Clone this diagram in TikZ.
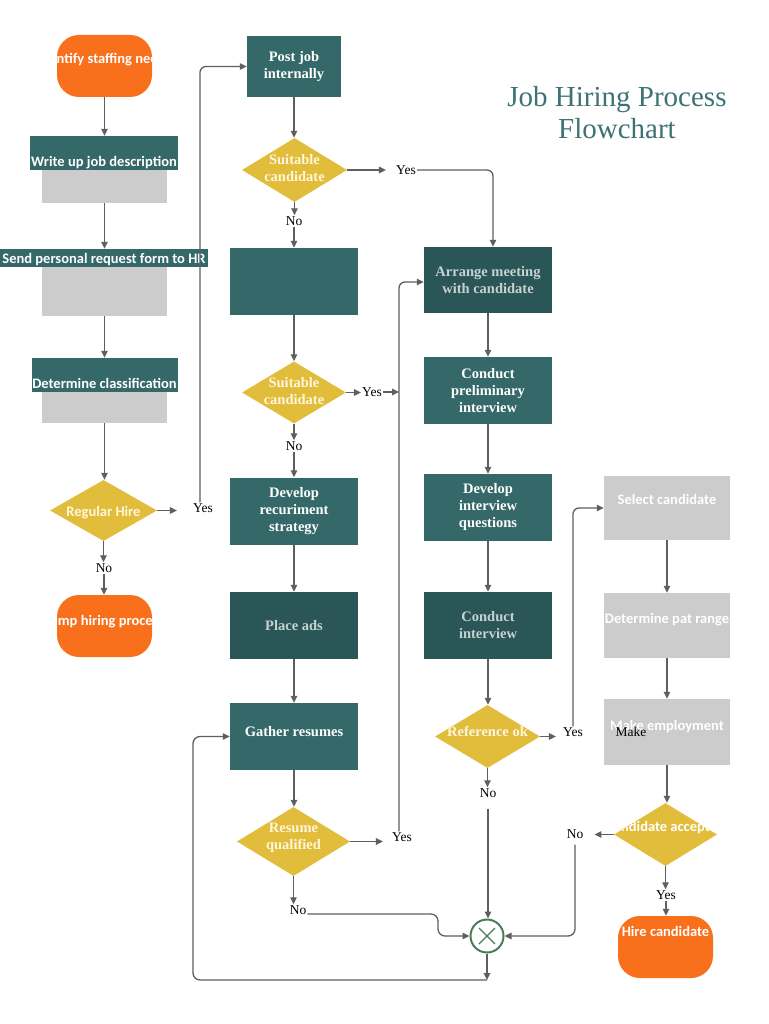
\documentclass[tikz,border=0pt]{standalone}
\usepackage{fontspec}
\setmainfont{Liberation Serif}
\newfontfamily\carl{Carlito}
\usetikzlibrary{shapes.geometric,arrows.meta,calc}
\definecolor{tealA}{HTML}{356869}
\definecolor{tealD}{HTML}{2A5657}
\definecolor{dtext}{HTML}{C8D2D2}
\definecolor{grayC}{HTML}{CCCCCC}
\definecolor{yellowC}{HTML}{E1BD3B}
\definecolor{orangeC}{HTML}{F8701C}
\definecolor{creamC}{HTML}{FFF6DC}
\definecolor{lineC}{HTML}{5F5F5F}
\definecolor{greenC}{HTML}{4C7B5B}
\definecolor{titleC}{HTML}{3E7275}
\newcommand\dlines[1]{\makebox[0pt]{\begin{tabular}{@{}c@{}}#1\end{tabular}}}
\begin{document}
\begin{tikzpicture}[x=1pt,y=-1pt,
  sz/.style 2 args={minimum width=#1, minimum height=#2},
  arr/.style={draw=lineC, line width=1.3pt, -{Triangle[length=7pt,width=6.5pt]}},
  tbox/.style={rectangle, fill=tealA, inner sep=0pt, text=white, font=\fontsize{14.5}{17}\selectfont\bfseries, align=center},
  dbox/.style={tbox, fill=tealD, text=dtext},
  gbox/.style={rectangle, fill=grayC, inner sep=0pt, text=white, font=\carl\fontsize{14.5}{17}\selectfont\bfseries},
  band/.style={rectangle, fill=tealA, inner sep=0pt, text=white, font=\carl\fontsize{14.5}{17}\selectfont\bfseries},
  term/.style={rectangle, rounded corners=22pt, fill=orangeC, inner sep=0pt},
  ttxt/.style={inner sep=0pt, text=white, font=\carl\fontsize{14.5}{17}\selectfont\bfseries},
  dia/.style={diamond, fill=yellowC, inner sep=0pt, text=creamC, font=\fontsize{14.5}{17}\selectfont\bfseries, text height=7pt, text depth=0pt},
  lab/.style={inner sep=1pt, text=black, font=\fontsize{13.5}{15}\selectfont},
  xline/.style={draw=greenC, line width=1.2pt}
]
\useasboundingbox (0,0) rectangle (768,1024);
\fill[white] (0,0) rectangle (768,1024);

% ---------- left column ----------
\node[term, sz={95pt}{62pt}, path picture={\node[ttxt] (startT) at ([yshift=6pt]path picture bounding box.center) {Identify staffing needs};}] (start) at (104.5,66) {};
\node[gbox, sz={125pt}{43pt}] (g1) at (104.5,181.5) {};
\node[band, sz={148pt}{34pt}, text height=27pt, text depth=0pt] (wband) at (104,153) {Write up job description};
\node[gbox, sz={125pt}{55pt}] (g2) at (104.5,288.5) {};
\node[band, sz={208pt}{18pt}, text height=11pt, text depth=0pt] (sband) at (104,258) {Send personal request form to HR};
\node[gbox, sz={125pt}{43pt}] (g3) at (104.5,401.5) {};
\node[band, sz={146pt}{34pt}, text height=27pt, text depth=0pt] (dband) at (104.5,375) {Determine classification};
\node[dia, sz={107pt}{61pt}, font=\carl\fontsize{14.5}{17}\selectfont\bfseries, text height=12pt] (rh) at (103.5,510.5) {\dlines{Regular Hire}};
\node[lab] (yes1) at (203,508) {Yes};
\node[lab] (no1) at (104,568) {No};
\node[term, sz={95pt}{62pt}, path picture={\node[ttxt] (tempT) at ([yshift=4pt]path picture bounding box.center) {Temp hiring process};}] (temp) at (104.5,626) {};

% ---------- middle column ----------
\node[tbox, sz={94pt}{61pt}] (post) at (294,66.5) {Post job\\internally};
\node[dia, sz={105pt}{64pt}] (sc1) at (294.5,170) {\dlines{Suitable\\candidate}};
\node[lab] (yes2) at (406,170) {Yes};
\node[lab] (no2) at (294,221) {No};
\node[tbox, sz={128pt}{67pt}] (blank) at (294,281.5) {};
\node[dia, sz={104pt}{62pt}] (sc2) at (294,392.5) {\dlines{Suitable\\candidate}};
\node[lab] (yes3) at (372,392) {Yes};
\node[lab] (no3) at (294,446) {No};
\node[tbox, sz={128pt}{67pt}] (devrec) at (294,511) {Develop\\recuriment\\strategy};
\node[dbox, sz={128pt}{67pt}] (ads) at (294,625.5) {Place ads};
\node[tbox, sz={128pt}{67pt}, text height=10pt, text depth=10pt] (gather) at (294,736.5) {Gather resumes};
\node[dia, sz={113pt}{69pt}, text height=0pt] (rq) at (293.5,841.5) {\dlines{Resume\\qualified}};
\node[lab] (yes4) at (402,837) {Yes};
\node[lab] (no4) at (298,910) {No};

% ---------- right column ----------
\node[dbox, sz={128pt}{66pt}] (arrange) at (488,280) {Arrange meeting\\with candidate};
\node[tbox, sz={128pt}{67pt}] (prelim) at (488,390.5) {Conduct\\preliminary\\interview};
\node[tbox, sz={128pt}{67pt}] (devq) at (488,507.5) {Develop\\interview\\questions};
\node[dbox, sz={128pt}{67pt}] (condint) at (488,625.5) {Conduct\\interview};
\node[dia, sz={105pt}{63pt}, text height=0pt] (ref) at (487.5,736.5) {\dlines{Reference ok}};
\node[lab] (yes5) at (573,732) {Yes};
\node[lab] (no5) at (488,793) {No};
\node[circle, draw=greenC, line width=2pt, fill=white, minimum size=33pt, inner sep=0pt] (x) at (487,936) {};
\draw[xline] ([shift={(-8,-8)}]x.center) -- ([shift={(8,8)}]x.center)
             ([shift={(-8,8)}]x.center) -- ([shift={(8,-8)}]x.center);

% ---------- far right column ----------
\node[gbox, sz={126pt}{64pt}, text height=0pt, text depth=7pt] (select) at (667,508) {Select candidate};
\node[gbox, sz={126pt}{65pt}, text height=0pt, text depth=4pt] (pay) at (667,625.5) {Determine pat range};
\node[gbox, sz={126pt}{66pt}, text height=0pt, text depth=3pt] (make) at (667,732) {Make employment};
\node[lab] (makeb) at (631,732) {Make};
\node[dia, sz={103pt}{63pt}, path picture={\node[ttxt] (caT) at ([yshift=6.5pt]path picture bounding box.center) {Candidate accepted};}] (ca) at (665.5,834.5) {};
\node[lab] (no6) at (575,834) {No};
\node[lab] (yes6) at (666,895) {Yes};
\node[term, sz={95pt}{62pt}, path picture={\node[ttxt] (hireT) at ([yshift=16pt]path picture bounding box.center) {Hire candidate};}] (hire) at (665.5,947) {};

% ---------- title ----------
\node[inner sep=0pt, text=titleC, align=center, font=\fontsize{29}{32}\selectfont] (title) at (617,113) {Job Hiring Process\\Flowchart};

% ---------- connectors ----------
\draw[arr] (start.south) -- (start.south |- wband.north);
\draw[arr] (g1.south) -- (g1.south |- sband.north);
\draw[arr] (g2.south) -- (g2.south |- dband.north);
\draw[arr] (g3.south) -- (g3.south |- rh.north);
\draw[arr, shorten >=15pt] (rh.east) -- (rh.east -| yes1.west);
\draw[arr, rounded corners=6pt] ([xshift=-3pt]yes1.north) |- (post.west);
\draw[arr] (rh.south) -- (rh.south |- no1.north);
\draw[arr] (no1.south) -- (no1.south |- temp.north);

\draw[arr] (post.south) -- (post.south |- sc1.north);
\draw[arr, shorten >=9pt] (sc1.east) -- (sc1.east -| yes2.west);
\draw[arr, rounded corners=6pt] (yes2.east) -| ([xshift=5pt]arrange.north);
\draw[arr] (sc1.south) -- (sc1.south |- no2.north);
\draw[arr] (no2.south) -- (no2.south |- blank.north);
\draw[arr] (blank.south) -- (blank.south |- sc2.north);
\draw[arr] (sc2.east) -- (sc2.east -| yes3.west);
\coordinate (vl) at ([xshift=-3pt]yes4.north);
\draw[arr] (yes3.east) -- (yes3.east -| vl);
\draw[arr, rounded corners=6pt] (vl) |- ([yshift=-2pt]arrange.west);
\draw[arr] (sc2.south) -- (sc2.south |- no3.north);
\draw[arr] (no3.south) -- (no3.south |- devrec.north);
\draw[arr] (devrec.south) -- (devrec.south |- ads.north);
\draw[arr] (ads.south) -- (ads.south |- gather.north);
\draw[arr] (gather.south) -- (gather.south |- rq.north);
\draw[arr, shorten >=8pt] (rq.east) -- (rq.east -| yes4.west);
\draw[arr] (rq.south) -- (rq.south |- no4.north);
\coordinate (kink) at (438,914);
\draw[arr, rounded corners=7pt] (no4.east |- kink) -- (kink) |- (x.west);

\draw[arr] (arrange.south) -- (arrange.south |- prelim.north);
\draw[arr] (prelim.south) -- (prelim.south |- devq.north);
\draw[arr] (devq.south) -- (devq.south |- condint.north);
\draw[arr] (condint.south) -- (condint.south |- ref.north);
\draw[arr, shorten >=6pt] (ref.east) -- (ref.east -| yes5.west);
\draw[arr, rounded corners=6pt] (yes5.north) |- (select.west);
\draw[arr] (ref.south) -- (ref.south |- no5.north);
\draw[arr, shorten <=10pt] (no5.south) -- (no5.south |- x.north);
\coordinate (bot) at (487,980);
\coordinate (lft) at (193,980);
\draw[arr] (x.south) -- (bot);
\draw[arr, rounded corners=7pt] (bot) -- (lft) |- (gather.west);

\draw[arr] (select.south) -- (select.south |- pay.north);
\draw[arr] (pay.south) -- (pay.south |- make.north);
\draw[arr] (make.south) -- (make.south |- ca.north);
\draw[arr, shorten >=10pt] (ca.west) -- (ca.west -| no6.east);
\draw[arr, rounded corners=7pt, shorten <=5pt] (no6.south) |- (x.east);
\draw[arr] (ca.south) -- (ca.south |- yes6.north);
\draw[arr] (yes6.south) -- (yes6.south |- hire.north);
\end{tikzpicture}
\end{document}
